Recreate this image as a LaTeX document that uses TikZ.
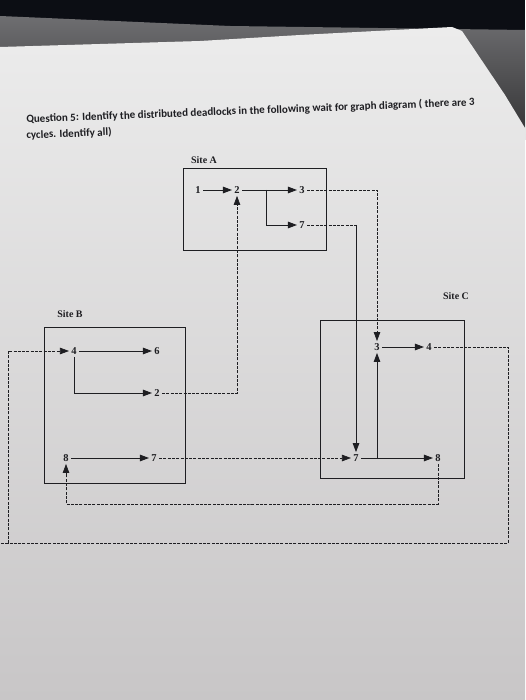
\documentclass[tikz,border=0pt]{standalone}
\usepackage{fontspec}
\setmainfont{Liberation Serif}
\newfontfamily\qfont{Carlito}
\usetikzlibrary{positioning}
\usetikzlibrary{arrows.meta}

\definecolor{ink}{RGB}{30,30,34}
\definecolor{paperhi}{RGB}{236,236,236}
\definecolor{paperlo}{RGB}{200,198,199}
\definecolor{desk}{RGB}{12,14,20}
\definecolor{rim}{RGB}{110,110,113}

\tikzset{
	wait/.style={-{Triangle[length=9pt,width=6.5pt]},line width=0.9pt,draw=ink},
	remote/.style={dash pattern=on 3pt off 1.3pt,line width=0.7pt,draw=ink},
	proc/.style={inner sep=2.2pt,text=ink,font=\fontsize{10.5}{13}\selectfont\bfseries},
	sitebox/.style={draw=ink,line width=0.9pt},
	sitelabel/.style={anchor=base,text=ink,font=\fontsize{10}{12}\selectfont\bfseries}
}

\begin{document}
\begin{tikzpicture}[x=1pt,y=-1pt]
			% photo background
			\fill[desk] (0,0) rectangle (525,700);
			\shade[top color=rim,bottom color=rim!45!black] (0,16) -- (230,26) -- (525,30) -- (525,140) -- (0,140) -- cycle;
			\shade[top color=paperhi,bottom color=paperlo] (0,47) -- (200,41) -- (300,35) -- (452,27) -- (462,31) -- (505,95) -- (525,128) -- (525,700) -- (0,700) -- cycle;
			\useasboundingbox (0,0) rectangle (525,700);

			\node[anchor=base west, rotate=2.2, text=ink, font=\qfont\bfseries\fontsize{11}{13}\selectfont] (Question) at (23,123) {Question 5: Identify the distributed deadlocks in the following wait for graph diagram ( there are 3};
			\node[anchor=base west, rotate=2.2, text=ink, font=\qfont\bfseries\fontsize{11}{13}\selectfont] (QuestionB) at (23,139) {cycles. Identify all)};

			% sites
			\draw[sitebox] (183,168) rectangle (326,250);
			\draw[sitebox] (44,327) rectangle (185,483);
			\draw[sitebox] (320,320) rectangle (464,478);
			\node[sitelabel] (SiteA) at (204,164) {Site A};
			\node[sitelabel] (SiteB) at (70,317) {Site B};
			\node[sitelabel] (SiteC) at (456,299) {Site C};

			% processes at site A
			\node[proc] (a1) at (198,190) {1};
			\node[proc] (a2) at (237,190) {2};
			\node[proc] (a3) at (302,190) {3};
			\node[proc] (a7) at (302,225) {7};
			% processes at site B
			\node[proc] (b4) at (74,351) {4};
			\node[proc] (b6) at (157,351) {6};
			\node[proc] (b2) at (157,393) {2};
			\node[proc] (b8) at (66,458) {8};
			\node[proc] (b7) at (154,458) {7};
			% processes at site C
			\node[proc] (c3) at (377,347) {3};
			\node[proc] (c4) at (429,347) {4};
			\node[proc] (c7) at (356,458) {7};
			\node[proc] (c8) at (438,458) {8};

			\coordinate (ajoin) at (266,190);
			\coordinate (aturn) at (a7 -| c7);
			\coordinate (cjoin) at (c3 |- c7);
			\coordinate (lowB) at (250,504);
			\coordinate (outR) at (508,543);
			\coordinate (outL) at (8,543);

			% local waits
			\draw[wait] (a1) to (a2);
			\draw[wait] (a2) to (a3);
			\draw[wait] (ajoin) |- (a7);
			\draw[wait] (b4) to (b6);
			\draw[wait] (b4) |- (b2);
			\draw[wait] (b8) to (b7);
			\draw[wait] (c3) to (c4);
			\draw[wait] (c7) to (c8);
			\draw[wait] (cjoin) to (c3);

			% global waits
			\draw[wait,remote] (a3) -| (c3);
			\draw[remote] (a7) to (aturn);
			\draw[wait] (aturn) to (c7);
			\draw[wait,remote] (b2) -| (a2);
			\draw[wait,remote] (b7) to (c7);
			\draw[wait,remote] (c8) |- (lowB) -| (b8);
			\draw[wait,remote] (c4) -| (outR) -- (outL) |- (b4);
			\draw[remote] (outL) -- (0,543);
		\end{tikzpicture}
\end{document}
